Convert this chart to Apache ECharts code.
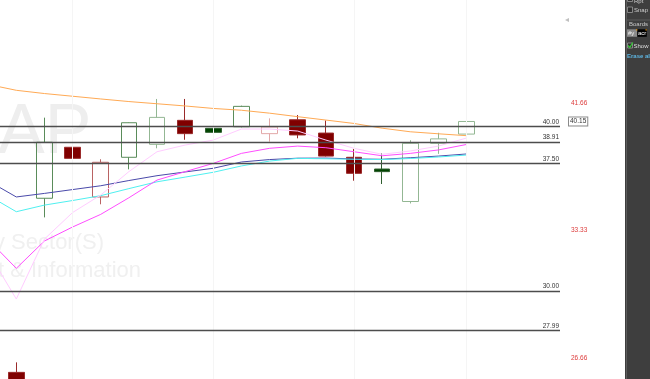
<!DOCTYPE html>
<html><head><meta charset="utf-8">
<script src="https://cdn.jsdelivr.net/npm/echarts@6/dist/echarts.min.js"></script>
<style>html,body{margin:0;padding:0;background:#fff}#c{width:650px;height:379px}</style>
</head><body><div id="c"></div>
<script>
// ---- data ----
const categories = ['d0','d1','d2','d3','d4','d5','d6','d7','d8','d9','d10','d11','d12','d13','d14','d15','d16','d17','d18','d19','d20','d21','d22'];
const opens  = [null, 26.01, 35.27, 38.56, 35.35, 37.89, 38.76, 40.42, 39.86, 39.97, 39.49, 40.46, 39.53, 37.89, 37.12, 35.07, 38.83, 39.46];
const closes = [null, 25.13, 38.90, 37.82, 37.56, 40.25, 40.63, 39.49, 39.58, 41.42, 39.95, 39.40, 37.97, 36.84, 36.95, 38.83, 39.13, 40.34];
const lows   = [null, 24.78, 34.11, 37.49, 34.90, 37.10, 38.49, 39.07, 39.51, 39.93, 38.94, 39.17, 37.94, 36.37, 36.16, 34.95, 38.12, 38.88];
const highs  = [null, 26.47, 40.61, 39.55, 37.76, 40.27, 41.96, 41.96, 41.83, 41.47, 40.56, 40.80, 40.41, 38.44, 38.15, 39.04, 39.55, 40.56];
const maOrange  = [43.04, 42.60, 42.36, 42.16, 41.96, 41.77, 41.61, 41.45, 41.27, 41.14, 40.93, 40.68, 40.44, 40.20, 39.87, 39.62, 39.48, 39.35];
const maLightPink = [32.10, 29.57, 32.84, 34.40, 35.47, 36.95, 38.26, 38.71, 39.05, 39.81, 39.81, 39.67, 39.05, 38.49, 38.09, 38.31, 38.64, 39.19];
const maMagenta = [32.81, 31.20, 32.73, 33.54, 34.29, 35.30, 36.41, 36.95, 37.49, 38.15, 38.49, 38.64, 38.53, 38.26, 37.99, 38.15, 38.38, 38.75];
const maBlue    = [36.36, 35.35, 35.57, 35.81, 36.05, 36.38, 36.69, 36.93, 37.17, 37.58, 37.74, 37.83, 37.84, 37.78, 37.76, 37.86, 37.97, 38.11];
const maCyan    = [35.45, 34.45, 34.85, 35.13, 35.43, 35.87, 36.30, 36.60, 36.91, 37.32, 37.64, 37.82, 37.79, 37.76, 37.74, 37.81, 37.91, 38.04];
const levelLines = [40.00, 38.91, 37.50, 30.00, 27.99];
const redLevels = [41.66, 33.33, 26.66];
const lastPriceLabel = '40.15';
const dividerIdx = [3, 8, 13, 17];
const yMin = 25.71, yMax = 49.89;

// ---- styles (not data) ----
const fadedIdx = [6, 10, 15, 16, 17];
const NOLINE = {color:'rgba(0,0,0,0)', width:0};

function pad(a){ return categories.map((c,i)=> (a[i]==null ? null : a[i])); }

const candleData = categories.map((c, i) => {
  if (opens[i] == null) return '-';
  const rising = closes[i] >= opens[i];
  const prev = (i > 0 && closes[i-1] != null) ? closes[i-1] : Infinity;
  const up = closes[i] > prev;
  const faded = fadedIdx.includes(i);
  let st;
  if (rising && up) st = {color:'rgba(0,0,0,0)', borderColor: faded ? '#93b793' : '#5a8c5a'};
  else if (rising) st = {color:'rgba(0,0,0,0)', borderColor: faded ? '#e2a8a8' : '#b96363'};
  else if (up) st = {color0:'#004400', borderColor0:'#2f5f2f'};
  else st = {color0:'#800000', borderColor0:'#9a2a2a'};
  return {value:[opens[i], closes[i], lows[i], highs[i]], itemStyle: st};
});

function ma(name, arr, color, z){
  return {name, type:'line', xAxisIndex:0, yAxisIndex:0, data: pad(arr), symbol:'none',
    lineStyle:{color, width:1}, z, silent:true, animation:false};
}

const chart = echarts.init(document.getElementById('c'), null, {renderer:'canvas'});
const FONT = 'Liberation Sans';
chart.setOption({
  backgroundColor:'#ffffff',
  animation:false,
  grid:[
    {left:-25.9, right:28.7, top:0, bottom:0, outerBoundsMode:'none'},
    {left:0, right:90, top:0, bottom:0, outerBoundsMode:'none'}
  ],
  xAxis:[
    {type:'category', data:categories, gridIndex:0, boundaryGap:true, show:false},
    {type:'value', gridIndex:1, min:0, max:1, show:false}
  ],
  yAxis:[
    {type:'log', logBase:10, gridIndex:0, min:yMin, max:yMax, show:false, splitLine:{show:false}},
    {type:'log', logBase:10, gridIndex:1, min:yMin, max:yMax, show:false, splitLine:{show:false}}
  ],
  graphic:[
    {type:'text', z:-10, style:{text:'AP', x:-2, y:134, fill:'#eeeeee', font:'70px "Liberation Sans"', verticalAlign:'middle'}},
    {type:'text', z:-10, style:{text:'y Sector(S)', x:-6, y:243, fill:'#f0f0f0', font:'22px "Liberation Sans"', verticalAlign:'middle'}},
    {type:'text', z:-10, style:{text:'t & Information', x:-2, y:270.5, fill:'#f0f0f0', font:'22px "Liberation Sans"', verticalAlign:'middle'}},
    {type:'text', z:10, style:{text:'◂', x:565, y:20, fill:'#c0c0c0', font:'8px "DejaVu Sans"', verticalAlign:'middle'}},
    // right panel
    {type:'rect', z:20, shape:{x:625,y:0,width:25,height:379}, style:{fill:'#3e3e3e'}},
    {type:'line', z:21, shape:{x1:626.5,y1:0,x2:626.5,y2:379}, style:{stroke:'#5c5c5c', lineWidth:1}},
    {type:'rect', z:21, shape:{x:627.5,y:-3.5,width:5,height:5}, style:{fill:'#303030', stroke:'#9a9a9a', lineWidth:0.8}},
    {type:'text', z:21, style:{text:'Rpt', x:634, y:1.5, fill:'#cfcfcf', font:'6px "Liberation Sans"', verticalAlign:'middle'}},
    {type:'rect', z:21, shape:{x:627.5,y:7,width:5,height:5.5}, style:{fill:'#303030', stroke:'#9a9a9a', lineWidth:0.8}},
    {type:'text', z:21, style:{text:'Snap', x:634, y:10, fill:'#cfcfcf', font:'6px "Liberation Sans"', verticalAlign:'middle'}},
    {type:'line', z:21, shape:{x1:626.5,y1:20,x2:650,y2:20}, style:{stroke:'#5a5a5a', lineWidth:1}},
    {type:'text', z:21, style:{text:'Boards', x:638.5, y:24.5, fill:'#c8c8c8', font:'6px "Liberation Sans"', align:'center', verticalAlign:'middle'}},
    {type:'rect', z:21, shape:{x:627,y:29.3,width:10.3,height:7.5}, style:{fill:'#8c8c8c'}},
    {type:'rect', z:21, shape:{x:637.3,y:29.3,width:9.5,height:7.5}, style:{fill:'#000000'}},
    {type:'rect', z:22, shape:{x:636,y:29.3,width:1.3,height:1.3}, style:{fill:'#e08a00'}},
    {type:'rect', z:22, shape:{x:645.5,y:29.3,width:1.3,height:1.3}, style:{fill:'#e08a00'}},
    {type:'text', z:22, style:{text:'#y', x:628, y:33, fill:'#f0f0f0', font:'6px "Liberation Sans"', verticalAlign:'middle'}},
    {type:'text', z:22, style:{text:'acr', x:638, y:33, fill:'#ffffff', font:'6px "Liberation Sans"', verticalAlign:'middle'}},
    {type:'rect', z:21, shape:{x:627.5,y:43,width:5,height:5}, style:{fill:'#303030', stroke:'#9a9a9a', lineWidth:0.8}},
    {type:'polyline', z:22, shape:{points:[[628,45.5],[629.8,47.5],[632.8,42.5]]}, style:{stroke:'#33cc33', lineWidth:1.2, fill:null}},
    {type:'text', z:21, style:{text:'Show', x:633.5, y:46, fill:'#dddddd', font:'6px "Liberation Sans"', verticalAlign:'middle'}},
    {type:'text', z:21, style:{text:'Erase all', x:627, y:56, fill:'#5eb6e2', font:'bold 6px "Liberation Sans"', verticalAlign:'middle'}}
  ],
  series:[
    {name:'dividers', type:'line', xAxisIndex:0, yAxisIndex:0, data:[], z:1, silent:true,
      markLine:{silent:true, symbol:['none','none'], label:{show:false},
        lineStyle:{color:'#f5f5f5', width:1, type:'solid'},
        data: dividerIdx.map(i => ({xAxis:i}))}},
    {name:'price', type:'candlestick', xAxisIndex:0, yAxisIndex:0, data:candleData, barWidth:16, z:2,
      itemStyle:{color:'rgba(0,0,0,0)', borderColor:'#5a8c5a', color0:'#800000', borderColor0:'#9a2a2a', borderWidth:1}},
    ma('ma200', maOrange, '#ffaa55', 3),
    ma('ma20', maBlue, '#4a4aaa', 3),
    ma('ma30', maCyan, '#4ff0f0', 3),
    ma('ma10', maMagenta, '#ff4dff', 3),
    ma('ma5', maLightPink, '#ffccff', 3),
    {name:'levels', type:'line', xAxisIndex:1, yAxisIndex:1, data:[], z:4, silent:true,
      markLine:{silent:true, symbol:['none','none'],
        lineStyle:{color:'#4d4d4d', width:1.4, type:'solid'},
        label:{show:true, position:'insideEndTop', distance:[1,1], color:'#333', fontSize:6.5, fontFamily:FONT,
          formatter: p => p.value.toFixed(2)},
        data: levelLines.map(v => ({yAxis:v}))
          .concat(redLevels.map(v => ({yAxis:v, lineStyle:NOLINE,
             label:{show:true, position:'end', distance:11, color:'#dd3b3b', fontSize:6.5, fontFamily:FONT, formatter: p => p.value.toFixed(2)}})))
          .concat([{yAxis: closes[17], lineStyle:NOLINE,
             label:{show:true, position:'end', distance:9, color:'#333', fontSize:6.5, fontFamily:FONT, formatter: () => lastPriceLabel,
               borderColor:'#8a8a8a', borderWidth:1, padding:[1,1,0,1], backgroundColor:'#fff'}}])
      }}
  ]
});
</script>
</body></html>
